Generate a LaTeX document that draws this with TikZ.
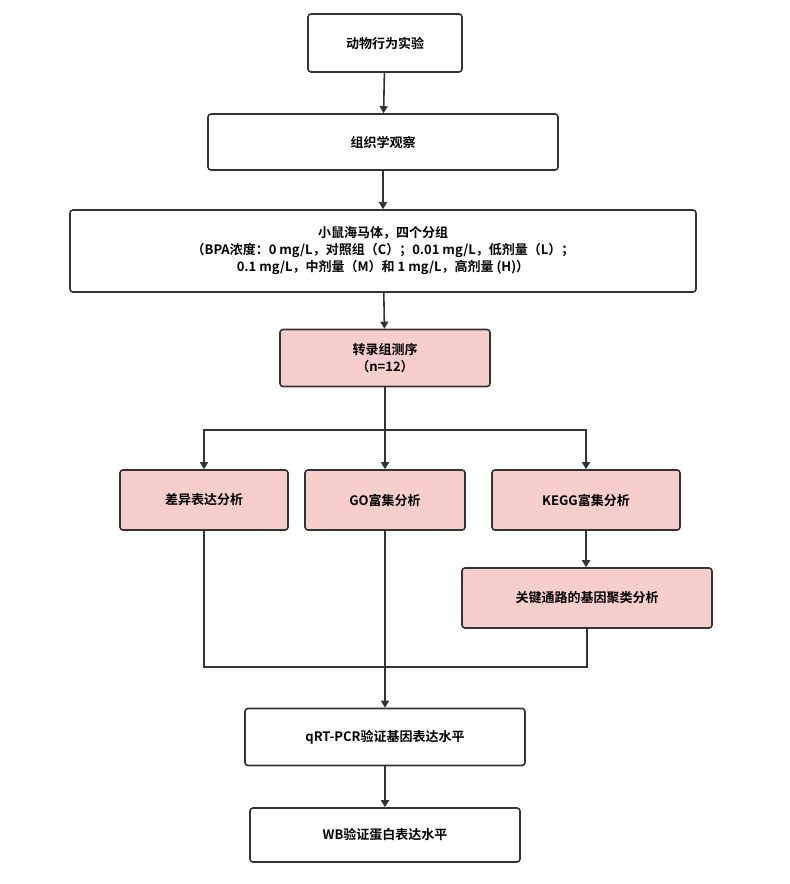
\documentclass[tikz,border=0pt]{standalone}
\usepackage{fontspec}
\setmainfont{Noto Sans CJK SC}[BoldFont={Noto Sans CJK SC Bold}]
\usetikzlibrary{positioning,arrows.meta}
\definecolor{boxpink}{HTML}{F8CECC}
\definecolor{linegray}{HTML}{333333}
\tikzset{
  stage/.style={draw=linegray,line width=1.6pt,rounded corners=3pt,fill=white,
    font=\bfseries\fontsize{13}{17}\selectfont,align=center,inner sep=0pt},
  hot/.style={stage,fill=boxpink},
  flow/.style={draw=linegray,line width=1.6pt,-{Triangle[length=7pt,width=8pt]}},
  link/.style={draw=linegray,line width=1.6pt}
}
\begin{document}
\begin{tikzpicture}[x=1pt,y=-1pt]
	\useasboundingbox (0,0) rectangle (790,884);
	\node[stage,minimum width=154pt,minimum height=58pt] (behav) at (385,43) {动物行为实验};
	\node[stage,minimum width=350pt,minimum height=56pt] (histo) at (383,142) {组织学观察};
	\node[stage,minimum width=626pt,minimum height=82pt] (group) at (383,251) {小鼠海马体，四个分组\\（BPA浓度：0 mg/L，对照组（C）；0.01 mg/L，低剂量（L）；\\0.1 mg/L，中剂量（M）和 1 mg/L，高剂量 (H)）};
	\node[hot,minimum width=210pt,minimum height=57pt] (seq) at (385,358) {转录组测序\\（n=12）};
	\node[hot,minimum width=168pt,minimum height=60pt] (deg) at (204,500) {差异表达分析};
	\node[hot,minimum width=160pt,minimum height=60pt] (go) at (385,500) {GO富集分析};
	\node[hot,minimum width=188pt,minimum height=60pt] (kegg) at (586,500) {KEGG富集分析};
	\node[hot,minimum width=250pt,minimum height=60pt] (clus) at (587,598) {关键通路的基因聚类分析};
	\node[stage,minimum width=280pt,minimum height=57pt] (pcr) at (385,737) {qRT-PCR验证基因表达水平};
	\node[stage,minimum width=270pt,minimum height=54pt] (wb) at (385,835) {WB验证蛋白表达水平};
	% connectors
	\coordinate (split) at (385,430);
	\coordinate (join) at (385,667);
	\draw[flow] (behav) -- (histo);
	\draw[flow] (histo) -- (group);
	\draw[flow] (group) -- (seq);
	\draw[link] (seq) -- (split);
	\draw[flow] (split) -| (deg);
	\draw[flow] (split) -- (go);
	\draw[flow] (split) -| (kegg);
	\draw[flow] (kegg) -- (kegg |- clus.north);
	\draw[link] (deg) |- (join);
	\draw[link] (clus.south) |- (join);
	\draw[flow] (go) -- (pcr);
	\draw[flow] (pcr) -- (wb);
\end{tikzpicture}
\end{document}
